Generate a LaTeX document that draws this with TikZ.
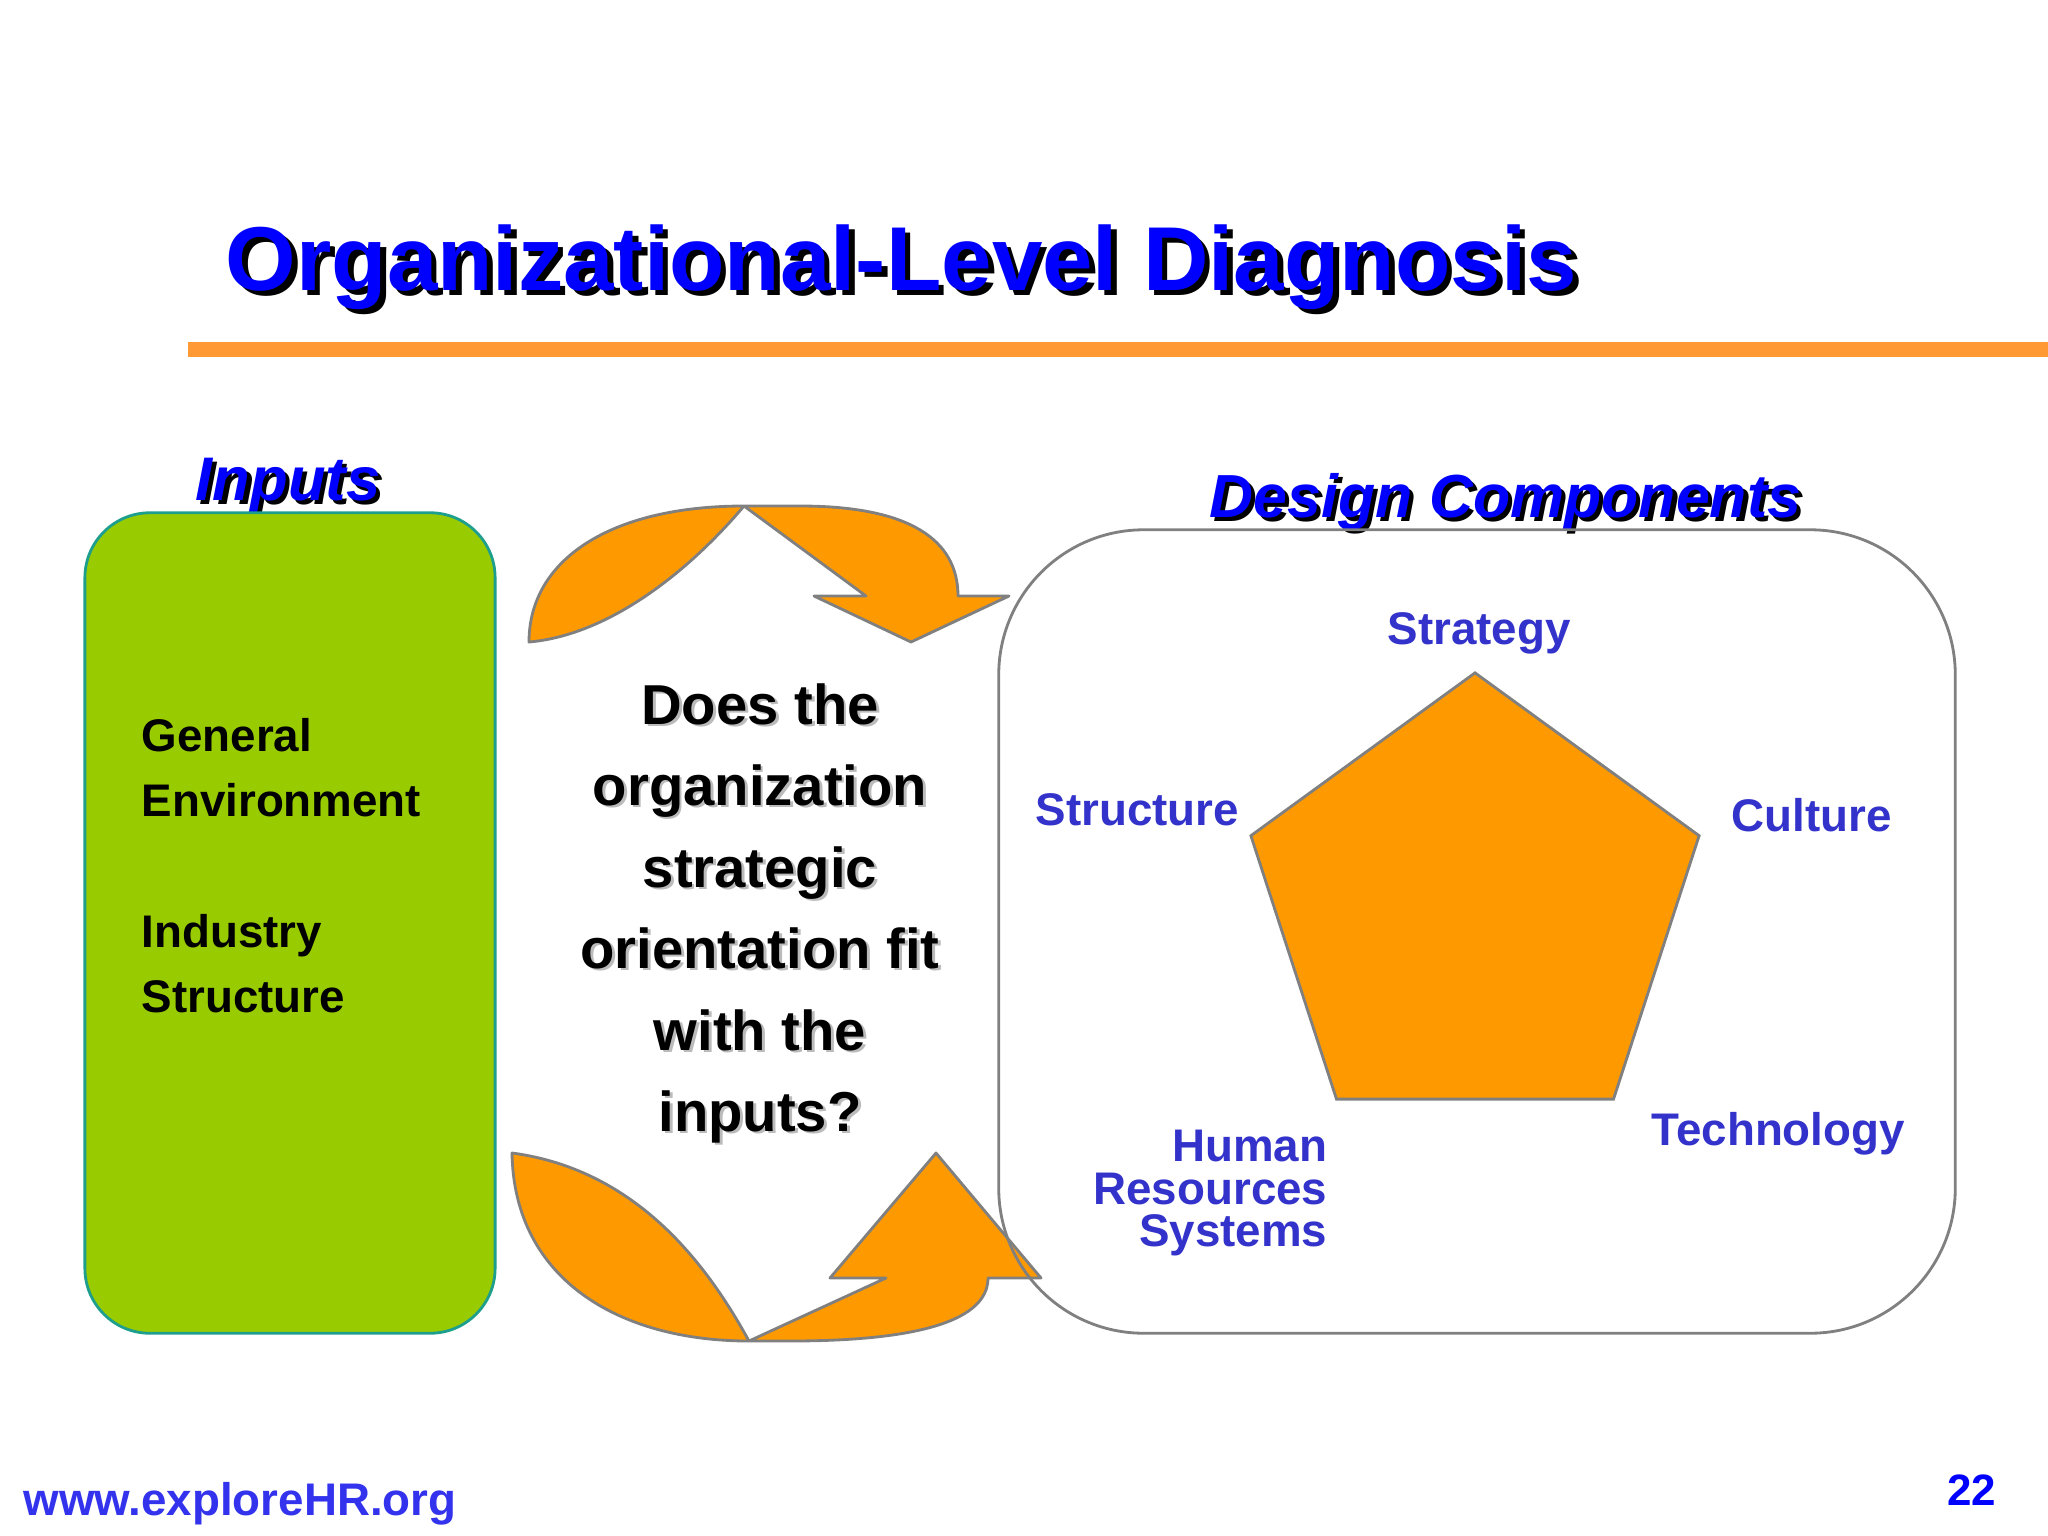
\documentclass[tikz,border=0pt]{standalone}
\usepackage{fontspec}
\setmainfont{Liberation Sans}
\usetikzlibrary{shapes.geometric}
\definecolor{titleblue}{HTML}{0000FF}
\definecolor{lblblue}{HTML}{3333CC}
\definecolor{urlblue}{HTML}{3333EE}
\definecolor{orfill}{HTML}{FF9900}
\definecolor{barorange}{HTML}{FF9933}
\definecolor{boxgreen}{HTML}{99CC00}
\definecolor{boxedge}{HTML}{1E9E8C}
\definecolor{edgegray}{HTML}{808080}
\definecolor{shgray}{HTML}{BBBBBB}
\newcommand{\shtxt}[3]{\makebox[0pt][l]{\hspace*{#1}\raisebox{-#1}{\textcolor{#2}{#3}}}#3}
\tikzset{
  headtxt/.style={anchor=base west, inner sep=0pt, text=titleblue},
  gtxt/.style={anchor=base west, inner sep=0pt, font=\bfseries\fontsize{13}{15}\selectfont, text=black},
  qtxt/.style={anchor=base, inner sep=0pt, font=\bfseries\fontsize{16}{19}\selectfont, text=black},
  lbl/.style={inner sep=0pt, font=\bfseries\fontsize{13}{15}\selectfont, text=lblblue},
  orarrow/.style={fill=orfill, draw=edgegray, line width=0.8pt, line join=round}
}
\begin{document}
\begin{tikzpicture}[x=0.01cm,y=-0.01cm]
\useasboundingbox[fill=white] (0,0) rectangle (2048,1536);

% title and bar
\node[headtxt, font=\bfseries\fontsize{25.8}{30}\selectfont] (title) at (225,290) {\shtxt{1.6pt}{black}{Organizational-Level Diagnosis}};
\fill[barorange] (188,342) rectangle (2048,357);

% section heads
\node[headtxt, font=\bfseries\itshape\fontsize{17.5}{21}\selectfont] (inputs) at (195,500) {\shtxt{1.2pt}{black}{Inputs}};
\node[headtxt, font=\bfseries\itshape\fontsize{17.3}{21}\selectfont] (design) at (1209,517) {\shtxt{1.2pt}{black}{Design Components}};

% green inputs box
\node[draw=boxedge, fill=boxgreen, rounded corners=0.65cm, line width=0.8pt,
      minimum width=4.1cm, minimum height=8.2cm, inner sep=0pt] (inbox) at (290,923) {};
\node[gtxt] (g1) at (141,751) {General};
\node[gtxt] (g2) at (141,816) {Environment};
\node[gtxt] (g3) at (141,947) {Industry};
\node[gtxt] (g4) at (141,1012) {Structure};

% curved arrows
\path[orarrow] (529,642) .. controls (529,560) and (610,506) .. (744,506)
  -- (800,506) .. controls (910,506) and (958,540) .. (958,596)
  -- (1009,596) -- (911,642) -- (814,596) -- (866,596) -- (744,506)
  .. controls (690,570) and (610,635) .. (529,642) -- cycle;
\path[orarrow] (512,1153) .. controls (514,1280) and (620,1341) .. (749,1341)
  -- (790,1341) .. controls (920,1341) and (988,1320) .. (988,1278)
  -- (1041,1278) -- (936,1153) -- (830,1278) -- (886,1278) -- (749,1341)
  .. controls (710,1270) and (640,1170) .. (512,1153) -- cycle;

% question text
\node[qtxt] (q1) at (760,724) {\shtxt{0.8pt}{shgray}{Does the}};
\node[qtxt] (q2) at (760,805) {\shtxt{0.8pt}{shgray}{organization}};
\node[qtxt] (q3) at (760,887) {\shtxt{0.8pt}{shgray}{strategic}};
\node[qtxt] (q4) at (760,968) {\shtxt{0.8pt}{shgray}{orientation fit}};
\node[qtxt] (q5) at (760,1050) {\shtxt{0.8pt}{shgray}{with the}};
\node[qtxt] (q6) at (760,1131) {\shtxt{0.8pt}{shgray}{inputs?}};

% design components box
\node[draw=edgegray, line width=0.8pt, rounded corners=1.45cm,
      minimum width=9.56cm, minimum height=8.03cm, inner sep=0pt] (dc) at (1477,931.5) {};
\node[regular polygon, regular polygon sides=5, draw=edgegray, fill=orfill, line width=0.8pt,
      minimum size=4.71cm, inner sep=0pt] (pent) at (1475,908.5) {};
\node[lbl, anchor=base] (strategy) at (1479,644) {Strategy};
\node[lbl, anchor=base west] (structure) at (1035,825) {Structure};
\node[lbl, anchor=base west] (culture) at (1731,831) {Culture};
\node[lbl, anchor=base west] (technology) at (1651,1145) {Technology};
\node[lbl, anchor=base east] (hr1) at (1328,1161) {Human};
\node[lbl, anchor=base east] (hr2) at (1328,1204) {Resources};
\node[lbl, anchor=base east] (hr3) at (1328,1246) {Systems};

% footer
\node[anchor=base west, inner sep=0pt, font=\bfseries\fontsize{13}{15}\selectfont, text=urlblue] (url) at (23,1515) {www.exploreHR.org};
\node[anchor=base east, inner sep=0pt, font=\bfseries\fontsize{12.5}{15}\selectfont, text=titleblue] (pagenum) at (1997,1505) {22};
\end{tikzpicture}
\end{document}
